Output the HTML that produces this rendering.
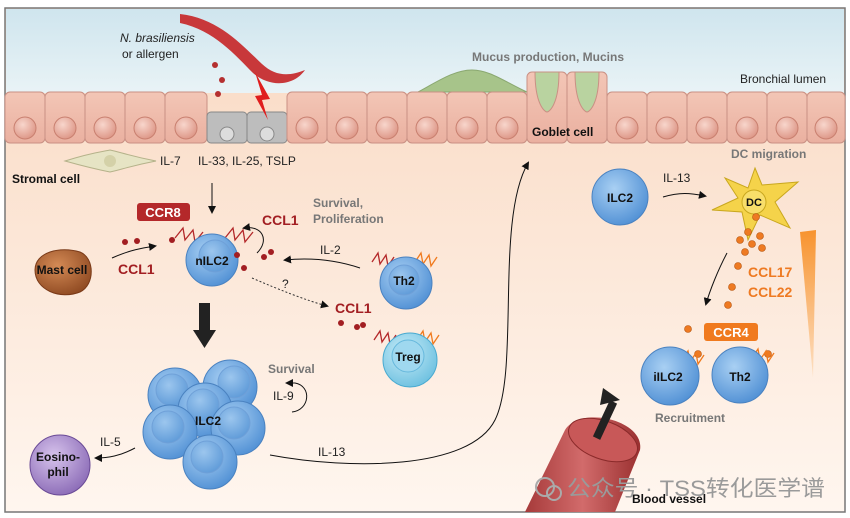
<!DOCTYPE html>
<html><head><meta charset="utf-8"><style>
html,body{margin:0;padding:0;background:#fff;width:850px;height:518px;overflow:hidden}
svg text{font-family:"Liberation Sans","Noto Sans CJK SC",sans-serif}
</style></head><body>
<svg width="850" height="518" viewBox="0 0 850 518" xmlns="http://www.w3.org/2000/svg">
<defs>
<linearGradient id="sky" x1="0" y1="0" x2="0" y2="1"><stop offset="0" stop-color="#cfe5ee"/><stop offset="1" stop-color="#e9f3f6"/></linearGradient>
<linearGradient id="tis" x1="0" y1="0" x2="0" y2="1"><stop offset="0" stop-color="#f9d9c2"/><stop offset="1" stop-color="#fff6ef"/></linearGradient>
<linearGradient id="epi" x1="0" y1="0" x2="0" y2="1"><stop offset="0" stop-color="#f3c6b6"/><stop offset="1" stop-color="#eab0a0"/></linearGradient>
<radialGradient id="blue" cx="0.4" cy="0.35" r="0.7"><stop offset="0" stop-color="#a9d0f3"/><stop offset="1" stop-color="#4f8fd4"/></radialGradient>
<radialGradient id="lblue" cx="0.4" cy="0.35" r="0.7"><stop offset="0" stop-color="#c9ecf7"/><stop offset="1" stop-color="#6cc0e0"/></radialGradient>
<radialGradient id="nuc" cx="0.4" cy="0.35" r="0.7"><stop offset="0" stop-color="#9cc6ee"/><stop offset="1" stop-color="#5e9ad8"/></radialGradient>
<radialGradient id="mast" cx="0.4" cy="0.35" r="0.7"><stop offset="0" stop-color="#d48a55"/><stop offset="1" stop-color="#8f4a22"/></radialGradient>
<radialGradient id="eos" cx="0.4" cy="0.35" r="0.7"><stop offset="0" stop-color="#d7c3ec"/><stop offset="1" stop-color="#8a6ab6"/></radialGradient>
<radialGradient id="pn" cx="0.4" cy="0.35" r="0.7"><stop offset="0" stop-color="#f8d6cc"/><stop offset="1" stop-color="#dc9484"/></radialGradient>
<linearGradient id="vessel" x1="0" y1="0" x2="1" y2="0"><stop offset="0" stop-color="#a63a3a"/><stop offset="0.5" stop-color="#d26b6b"/><stop offset="1" stop-color="#9a3030"/></linearGradient>
<linearGradient id="tri" x1="0" y1="0" x2="0" y2="1"><stop offset="0" stop-color="#f7932e"/><stop offset="1" stop-color="#fde0c4"/></linearGradient>
<marker id="ah" markerWidth="8" markerHeight="8" refX="6" refY="4" orient="auto"><path d="M0,0 L8,4 L0,8 Z" fill="#111"/></marker>
</defs>
<rect x="0" y="0" width="850" height="518" fill="#fff"/>
<rect x="5" y="8" width="840" height="504" fill="url(#tis)" stroke="#777" stroke-width="1.5"/>
<rect x="6" y="9" width="838" height="84" fill="url(#sky)"/>
<path d="M418,92 C440,80 455,70 472,70 C490,70 505,82 527,92 Z" fill="#a7c48a" stroke="#8aa870"/>
<g stroke="#c99084" stroke-width="1">
<rect x="5" y="92" width="40" height="51" rx="5" fill="url(#epi)"/><rect x="45" y="92" width="40" height="51" rx="5" fill="url(#epi)"/>
<rect x="85" y="92" width="40" height="51" rx="5" fill="url(#epi)"/><rect x="125" y="92" width="40" height="51" rx="5" fill="url(#epi)"/>
<rect x="165" y="92" width="42" height="51" rx="5" fill="url(#epi)"/>
<rect x="207" y="112" width="40" height="31" rx="4" fill="#bdbdbd" stroke="#888"/><rect x="247" y="112" width="40" height="31" rx="4" fill="#bdbdbd" stroke="#888"/>
<rect x="287" y="92" width="40" height="51" rx="5" fill="url(#epi)"/><rect x="327" y="92" width="40" height="51" rx="5" fill="url(#epi)"/>
<rect x="367" y="92" width="40" height="51" rx="5" fill="url(#epi)"/><rect x="407" y="92" width="40" height="51" rx="5" fill="url(#epi)"/>
<rect x="447" y="92" width="40" height="51" rx="5" fill="url(#epi)"/><rect x="487" y="92" width="40" height="51" rx="5" fill="url(#epi)"/>
<rect x="527" y="72" width="40" height="71" rx="5" fill="url(#epi)"/><rect x="567" y="72" width="40" height="71" rx="5" fill="url(#epi)"/>
<rect x="607" y="92" width="40" height="51" rx="5" fill="url(#epi)"/><rect x="647" y="92" width="40" height="51" rx="5" fill="url(#epi)"/>
<rect x="687" y="92" width="40" height="51" rx="5" fill="url(#epi)"/><rect x="727" y="92" width="40" height="51" rx="5" fill="url(#epi)"/>
<rect x="767" y="92" width="40" height="51" rx="5" fill="url(#epi)"/><rect x="807" y="92" width="38" height="51" rx="5" fill="url(#epi)"/>
</g>
<path d="M535,72 C535,105 545,112 547,112 C549,112 559,105 559,72 Z" fill="#b9d3a0" stroke="#c99084"/>
<path d="M575,72 C575,105 585,112 587,112 C589,112 599,105 599,72 Z" fill="#b9d3a0" stroke="#c99084"/>
<g fill="url(#pn)" stroke="#c98070">
<circle cx="25" cy="128" r="11"/><circle cx="65" cy="128" r="11"/><circle cx="105" cy="128" r="11"/><circle cx="145" cy="128" r="11"/><circle cx="186" cy="128" r="11"/>
<circle cx="307" cy="128" r="11"/><circle cx="347" cy="128" r="11"/><circle cx="387" cy="128" r="11"/><circle cx="427" cy="128" r="11"/><circle cx="467" cy="128" r="11"/><circle cx="507" cy="128" r="11"/>
<circle cx="627" cy="128" r="11"/><circle cx="667" cy="128" r="11"/><circle cx="707" cy="128" r="11"/><circle cx="747" cy="128" r="11"/><circle cx="787" cy="128" r="11"/><circle cx="826" cy="128" r="11"/>
</g>
<circle cx="227" cy="134" r="7" fill="#ddd" stroke="#888"/><circle cx="267" cy="134" r="7" fill="#ddd" stroke="#888"/>
<path d="M180,14 C218,18 242,45 262,64 C276,77 290,76 305,70 C294,86 270,88 253,73 C236,56 214,30 180,23 Z" fill="#c8383a"/>
<path d="M255,72 L262,95 L255,96 L268,120 L262,100 L270,99 Z" fill="#e01e1e"/>
<g fill="#b53030"><circle cx="215" cy="65" r="3"/><circle cx="222" cy="80" r="3"/><circle cx="218" cy="94" r="3"/></g>
<text x="120" y="42" font-size="12" font-style="italic" fill="#222">N. brasiliensis</text>
<text x="122" y="58" font-size="12" fill="#222">or allergen</text>
<text x="472" y="61" font-size="12" font-weight="bold" fill="#777">Mucus production, Mucins</text>
<text x="740" y="83" font-size="12" fill="#222">Bronchial lumen</text>
<text x="532" y="136" font-size="12" font-weight="bold" fill="#111">Goblet cell</text>
<path d="M65,161 C90,153 100,152 110,150 C120,152 130,156 156,161 C130,166 120,170 110,172 C100,170 90,168 65,161 Z" fill="#e6e4c4" stroke="#b5b28a"/>
<circle cx="110" cy="161" r="6" fill="#d4d1a8"/>
<text x="160" y="165" font-size="12" fill="#222">IL-7</text>
<text x="198" y="165" font-size="12" fill="#222">IL-33, IL-25, TSLP</text>
<text x="12" y="183" font-size="12" font-weight="bold" fill="#111">Stromal cell</text>
<line x1="212" y1="183" x2="212" y2="212" stroke="#111" marker-end="url(#ah)"/>
<rect x="137" y="203" width="53" height="18" rx="3" fill="#b4282a"/>
<text x="163" y="217" font-size="13" font-weight="bold" fill="#fff" text-anchor="middle">CCR8</text>
<text x="262" y="225" font-size="14" font-weight="bold" fill="#a21e22">CCL1</text>
<text x="313" y="207" font-size="12" font-weight="bold" fill="#777">Survival,</text>
<text x="313" y="223" font-size="12" font-weight="bold" fill="#777">Proliferation</text>
<path d="M257,253 C270,240 262,225 244,228" fill="none" stroke="#111" marker-end="url(#ah)"/>
<g stroke="#b4282a" stroke-width="1.3" fill="none"><path d="M175,238 l8,-10 l2,12 l8,-10 l2,12 l8,-10"/><path d="M225,238 l8,-10 l2,12 l8,-10 l2,12 l8,-10"/></g>
<circle cx="212" cy="260" r="26" fill="url(#blue)" stroke="#4a82c0"/>
<circle cx="215" cy="256" r="16" fill="url(#nuc)" stroke="#6fa0d8"/>
<text x="212" y="265" font-size="12" font-weight="bold" fill="#111" text-anchor="middle">nILC2</text>
<g fill="#a21e22"><circle cx="125" cy="242" r="3"/><circle cx="137" cy="241" r="3"/><circle cx="172" cy="240" r="3"/><circle cx="237" cy="255" r="3"/><circle cx="244" cy="268" r="3"/><circle cx="264" cy="257" r="3"/><circle cx="271" cy="252" r="3"/><circle cx="341" cy="323" r="3"/><circle cx="357" cy="327" r="3"/><circle cx="363" cy="325" r="3"/></g>
<path d="M35,270 C35,252 60,246 80,252 C95,258 95,285 80,292 C60,300 35,290 35,270 Z" fill="url(#mast)" stroke="#7a3a18"/>
<text x="62" y="274" font-size="12" font-weight="bold" fill="#111" text-anchor="middle">Mast cell</text>
<text x="118" y="274" font-size="14" font-weight="bold" fill="#a21e22">CCL1</text>
<path d="M112,258 C130,250 142,248 155,246" fill="none" stroke="#111" marker-end="url(#ah)"/>
<text x="320" y="254" font-size="12" fill="#222">IL-2</text>
<path d="M360,268 C330,258 305,258 285,260" fill="none" stroke="#111" marker-end="url(#ah)"/>
<text x="282" y="288" font-size="12" fill="#222">?</text>
<path d="M252,278 C280,290 305,300 327,306" fill="none" stroke="#333" stroke-dasharray="2,2" marker-end="url(#ah)"/>
<text x="335" y="313" font-size="14" font-weight="bold" fill="#a21e22">CCL1</text>
<g stroke-width="1.3" fill="none"><path d="M372,262 l6,-9 l2,11 l6,-9 l2,11 l6,-9" stroke="#b4282a"/><path d="M415,262 l6,-9 l2,11 l6,-9 l2,11 l6,-9" stroke="#f07a1e"/>
<path d="M374,340 l6,-9 l2,11 l6,-9 l2,11 l6,-9" stroke="#b4282a"/><path d="M417,340 l6,-9 l2,11 l6,-9 l2,11 l6,-9" stroke="#f07a1e"/></g>
<circle cx="406" cy="283" r="26" fill="url(#blue)" stroke="#4a82c0"/><circle cx="404" cy="280" r="15" fill="url(#nuc)" stroke="#6fa0d8"/>
<text x="404" y="285" font-size="12" font-weight="bold" fill="#111" text-anchor="middle">Th2</text>
<circle cx="410" cy="360" r="27" fill="url(#lblue)" stroke="#4aaad0"/><circle cx="408" cy="356" r="16" fill="#9fd8ef" stroke="#66b8dc"/>
<text x="408" y="361" font-size="12" font-weight="bold" fill="#111" text-anchor="middle">Treg</text>
<rect x="199" y="303" width="11" height="30" fill="#222"/><path d="M193,330 L216,330 L204.5,348 Z" fill="#222"/>
<g stroke="#4a82c0">
<circle cx="175" cy="395" r="27" fill="url(#blue)"/><circle cx="172" cy="390" r="16" fill="url(#nuc)" stroke="#6fa0d8"/>
<circle cx="230" cy="387" r="27" fill="url(#blue)"/><circle cx="234" cy="382" r="16" fill="url(#nuc)" stroke="#6fa0d8"/>
<circle cx="205" cy="410" r="27" fill="url(#blue)"/><circle cx="203" cy="405" r="16" fill="url(#nuc)" stroke="#6fa0d8"/>
<circle cx="170" cy="432" r="27" fill="url(#blue)"/><circle cx="168" cy="427" r="16" fill="url(#nuc)" stroke="#6fa0d8"/>
<circle cx="238" cy="428" r="27" fill="url(#blue)"/><circle cx="234" cy="423" r="16" fill="url(#nuc)" stroke="#6fa0d8"/>
<circle cx="210" cy="462" r="27" fill="url(#blue)"/><circle cx="207" cy="457" r="16" fill="url(#nuc)" stroke="#6fa0d8"/>
</g>
<text x="208" y="425" font-size="12" font-weight="bold" fill="#111" text-anchor="middle">ILC2</text>
<text x="268" y="373" font-size="12" font-weight="bold" fill="#777">Survival</text>
<text x="273" y="400" font-size="12" fill="#222">IL-9</text>
<path d="M292,412 C310,410 312,386 295,383 L287,383" fill="none" stroke="#111" marker-end="url(#ah)"/>
<circle cx="60" cy="465" r="30" fill="url(#eos)" stroke="#6a4a96"/>
<text x="58" y="461" font-size="12" font-weight="bold" fill="#111" text-anchor="middle">Eosino-</text>
<text x="58" y="476" font-size="12" font-weight="bold" fill="#111" text-anchor="middle">phil</text>
<text x="100" y="446" font-size="12" fill="#222">IL-5</text>
<path d="M135,448 C120,456 108,458 96,458" fill="none" stroke="#111" marker-end="url(#ah)"/>
<path d="M270,455 C350,470 470,470 495,420 C520,370 495,220 528,163" fill="none" stroke="#111" marker-end="url(#ah)"/>
<text x="318" y="456" font-size="12" fill="#222">IL-13</text>
<circle cx="620" cy="197" r="28" fill="url(#blue)" stroke="#4a82c0"/>
<text x="620" y="202" font-size="12" font-weight="bold" fill="#111" text-anchor="middle">ILC2</text>
<text x="663" y="182" font-size="12" fill="#222">IL-13</text>
<path d="M663,197 C680,192 690,193 705,196" fill="none" stroke="#111" marker-end="url(#ah)"/>
<text x="731" y="158" font-size="12" font-weight="bold" fill="#777">DC migration</text>
<path d="M755,168 L762,185 L798,182 L775,202 L790,228 L760,215 L748,240 L742,212 L712,210 L738,198 L725,178 L748,188 Z" fill="#f5d34a" stroke="#c9a71e"/>
<circle cx="754" cy="202" r="12" fill="#f8de6a" stroke="#c9a71e"/>
<text x="754" y="206" font-size="11" font-weight="bold" fill="#111" text-anchor="middle">DC</text>
<g fill="#ee7a22" stroke="#b35410" stroke-width="0.6"><circle cx="756" cy="217" r="3.5"/><circle cx="748" cy="232" r="3.5"/><circle cx="760" cy="236" r="3.5"/><circle cx="740" cy="240" r="3.5"/><circle cx="752" cy="244" r="3.5"/><circle cx="745" cy="252" r="3.5"/><circle cx="762" cy="248" r="3.5"/><circle cx="738" cy="266" r="3.5"/><circle cx="732" cy="287" r="3.5"/><circle cx="728" cy="305" r="3.5"/><circle cx="688" cy="329" r="3.5"/><circle cx="698" cy="354" r="3.5"/><circle cx="768" cy="354" r="3.5"/></g>
<text x="748" y="277" font-size="14" font-weight="bold" fill="#ee7a22">CCL17</text>
<text x="748" y="297" font-size="14" font-weight="bold" fill="#ee7a22">CCL22</text>
<path d="M727,253 C718,270 710,290 706,304" fill="none" stroke="#111" marker-end="url(#ah)"/>
<path d="M800,232 L816,230 L813,378 Z" fill="url(#tri)"/>
<rect x="704" y="323" width="54" height="18" rx="3" fill="#f07a1e"/>
<text x="731" y="337" font-size="13" font-weight="bold" fill="#fff" text-anchor="middle">CCR4</text>
<g stroke="#f07a1e" stroke-width="1.3" fill="none"><path d="M682,360 l6,-9 l2,11 l6,-9 l2,11 l6,-9"/><path d="M752,358 l6,-9 l2,11 l6,-9 l2,11 l6,-9"/></g>
<circle cx="670" cy="376" r="29" fill="url(#blue)" stroke="#4a82c0"/>
<text x="668" y="381" font-size="12" font-weight="bold" fill="#111" text-anchor="middle">iILC2</text>
<circle cx="740" cy="375" r="28" fill="url(#blue)" stroke="#4a82c0"/>
<text x="740" y="381" font-size="12" font-weight="bold" fill="#111" text-anchor="middle">Th2</text>
<text x="655" y="422" font-size="12" font-weight="bold" fill="#777">Recruitment</text>
<path d="M525,512 L565,430 C580,405 645,420 640,450 L615,512 Z" fill="url(#vessel)"/>
<ellipse cx="603" cy="440" rx="36" ry="19" transform="rotate(20 603 440)" fill="#c85858" stroke="#8a2a2a"/>
<rect x="601" y="400" width="8" height="40" fill="#222" transform="rotate(25 605 420)"/>
<path d="M603,388 L620,400 L600,405 Z" fill="#222"/>
<text x="632" y="503" font-size="12" font-weight="bold" fill="#111">Blood vessel</text>
<circle cx="545" cy="487" r="9" fill="none" stroke="#aaa" stroke-width="2"/><circle cx="554" cy="493" r="7" fill="none" stroke="#aaa" stroke-width="2"/>
<text x="567" y="496" font-size="22" fill="#9a9a9a" textLength="258" lengthAdjust="spacingAndGlyphs">公众号 · TSS转化医学谱</text>
</svg>
</body></html>
